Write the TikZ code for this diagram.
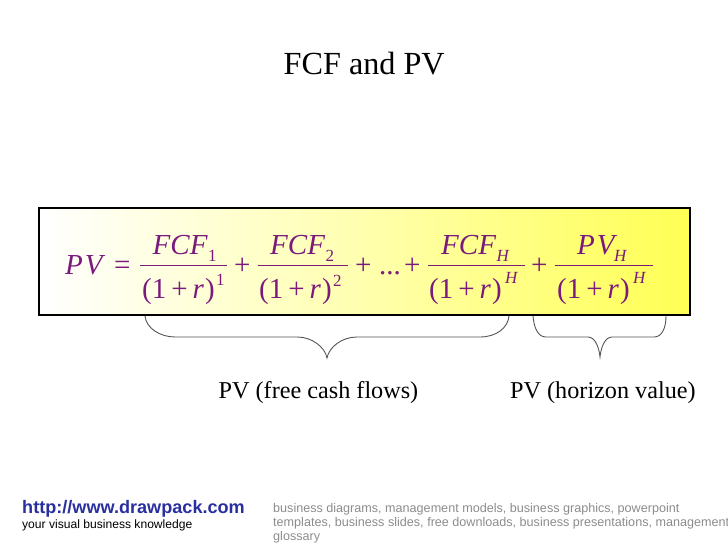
\documentclass[tikz,border=0pt]{standalone}
\usepackage{fontspec}
\setmainfont{Liberation Serif}
\newfontfamily\arialfont{Liberation Sans}
\definecolor{formula}{HTML}{7A1A7C}
\definecolor{linkblue}{HTML}{2A2F9F}
\definecolor{footgray}{HTML}{8C8C8C}
\definecolor{bracegray}{HTML}{555555}
\newcommand{\denom}{(1\kern5pt+\kern5pt\textit{r}\kern1pt)}
\tikzset{
  x=1pt,y=-1pt,
  txt/.style={inner sep=0pt,anchor=base west,text=black},
  titletext/.style={txt,font=\fontsize{32.2}{32}\selectfont},
  labeltext/.style={txt,font=\fontsize{24.2}{24}\selectfont},
  big/.style={txt,text=formula,font=\fontsize{29}{29}\selectfont},
  bigit/.style={big,font=\fontsize{29}{29}\selectfont\itshape},
  small/.style={txt,text=formula,font=\fontsize{17}{17}\selectfont},
  smallit/.style={small,font=\fontsize{17}{17}\selectfont\itshape},
  fracline/.style={draw=formula,line width=0.9pt},
  bracket/.style={draw=bracegray,line width=0.9pt},
  foot/.style={txt,text=footgray,font=\arialfont\fontsize{12.6}{12.6}\selectfont},
}
\begin{document}
\begin{tikzpicture}
\useasboundingbox (0,0) rectangle (728,546);
\node[titletext] (title) at (283.5,74.5) {FCF and PV};
\fill[left color=white,right color=yellow!67!white,middle color=yellow!32!white] (39,208) rectangle (690,315);
\draw[black,line width=2.6pt] (39,208) rectangle (690,315);
% formula
\node[bigit] (pv) at (65,274) {P\kern2pt V};
\node[big] (eq) at (114,274) {=};
\coordinate (f1a) at (140,265); \coordinate (f1b) at (227,265);
\coordinate (f2a) at (258,265); \coordinate (f2b) at (348,265);
\coordinate (f3a) at (428,265); \coordinate (f3b) at (525,265);
\coordinate (f4a) at (555,265); \coordinate (f4b) at (653,265);
\draw[fracline] (f1a) -- (f1b);
\draw[fracline] (f2a) -- (f2b);
\draw[fracline] (f3a) -- (f3b);
\draw[fracline] (f4a) -- (f4b);
\node[bigit] (n1) at (152.5,254) {FCF};
\node[small] (s1) at (208,261) {1};
\node[big] (d1) at (142,298) {\denom};
\node[small] (e1) at (216,285) {1};
\node[big] (p1) at (234,274) {+};
\node[bigit] (n2) at (270,254) {FCF};
\node[small] (s2) at (325.5,261) {2};
\node[big] (d2) at (259,298) {\denom};
\node[small] (e2) at (333,286) {2};
\node[big] (p2) at (355,274) {+};
\node[big] (dots) at (379,274) {...};
\node[big] (p3) at (404,274) {+};
\node[bigit] (n3) at (441,254) {FCF};
\node[smallit] (s3) at (496.5,261) {H};
\node[big] (d3) at (429,298) {\denom};
\node[smallit] (e3) at (505,283) {H};
\node[big] (p4) at (531,274) {+};
\node[bigit] (n4) at (577,254) {P\kern2pt V};
\node[smallit] (s4) at (614,261) {H};
\node[big] (d4) at (557,298) {\denom};
\node[smallit] (e4) at (633,283) {H};
% braces
\coordinate (a0) at (145,316); \coordinate (a1) at (175,337); \coordinate (a2) at (297,337);
\coordinate (a3) at (327,358); \coordinate (a4) at (357,337); \coordinate (a5) at (480,337); \coordinate (a6) at (509,316);
\draw[bracket] (a0) .. controls (146,328) and (160,337) .. (a1) -- (a2) .. controls (312,337) and (325,347) .. (a3)
  .. controls (329,347) and (342,337) .. (a4) -- (a5) .. controls (496,337) and (508,328) .. (a6);
\coordinate (b0) at (533,316); \coordinate (b1) at (546,337); \coordinate (b2) at (588,337);
\coordinate (b3) at (600,357); \coordinate (b4) at (612,337); \coordinate (b5) at (654,337); \coordinate (b6) at (666,316);
\draw[bracket] (b0) .. controls (534,328) and (538,337) .. (b1) -- (b2) .. controls (595,337) and (599,347) .. (b3)
  .. controls (601,347) and (605,337) .. (b4) -- (b5) .. controls (662,337) and (666,328) .. (b6);
\node[labeltext] (l1) at (218.5,398) {PV (free cash flows)};
\node[labeltext] (l2) at (510,398) {PV (horizon value)};
% footer
\node[txt,text=linkblue,font=\arialfont\bfseries\fontsize{18.1}{18}\selectfont] (url) at (22,513) {http://www.drawpack.com};
\node[txt,font=\arialfont\fontsize{12.1}{12}\selectfont] (sl) at (22,528) {your visual business knowledge};
\node[foot] (f1) at (273,512) {business diagrams, management models, business graphics, powerpoint};
\node[foot] (f2) at (273,526) {templates, business slides, free downloads, business presentations, management};
\node[foot] (f3) at (273,540) {glossary};
\end{tikzpicture}
\end{document}
